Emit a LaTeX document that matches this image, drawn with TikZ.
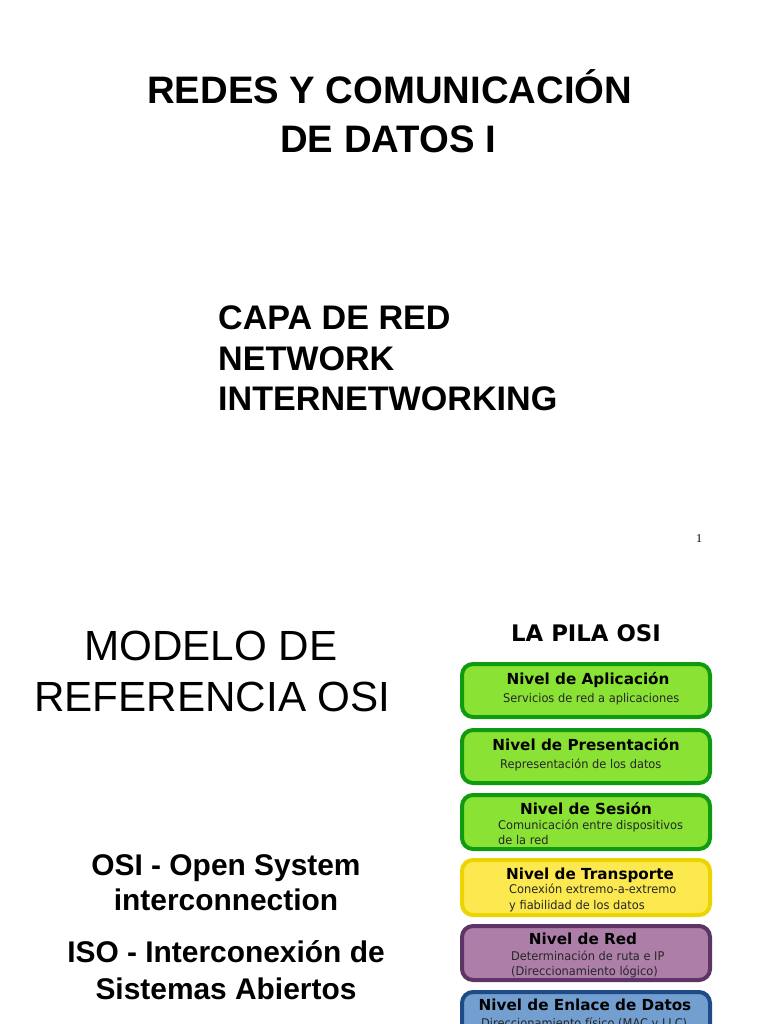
\documentclass[tikz,border=0pt]{standalone}
\usepackage{fontspec}
\setmainfont{Liberation Sans}
\newfontfamily\headf{DejaVu Sans}
\newfontfamily\subf[FakeStretch=0.95]{DejaVu Sans}
\newcommand{\fsz}[1]{\fontsize{#1}{#1}\selectfont}
\definecolor{gfill}{HTML}{8AE234}
\definecolor{gline}{HTML}{0F9A0F}
\definecolor{yfill}{HTML}{FCE94F}
\definecolor{yline}{HTML}{EDD400}
\definecolor{pfill}{HTML}{AD7FA8}
\definecolor{pline}{HTML}{5C3566}
\definecolor{bfill}{HTML}{729FCF}
\definecolor{bline}{HTML}{204A87}
\tikzset{
 x=1pt,y=-1pt,
 txt/.style={inner sep=0pt,anchor=base west,align=left},
 ttl/.style={txt,font=\fsz{38.3}\bfseries},
 captext/.style={txt,font=\fsz{34.1}\bfseries},
 big/.style={txt,font=\fsz{42.2}},
 mid/.style={inner sep=0pt,anchor=base,font=\fsz{29.9}\bfseries},
 layer/.style={rounded corners=11pt,line width=4pt},
 head/.style={inner sep=0pt,anchor=base,font=\headf\fsz{15.2}\bfseries},
 sub/.style={txt,font=\subf\fsz{12},text=black!85},
}
\begin{document}
\begin{tikzpicture}
\useasboundingbox (0,0) rectangle (768,1024);
\clip (0,0) rectangle (768,1024);
\fill[white] (0,0) rectangle (768,1024);
\node[ttl] (t1) at (147,104) {REDES Y COMUNICACIÓN};
\node[ttl] (t2) at (280,153) {DE DATOS I};
\node[captext] (c1) at (218,329) {CAPA DE RED};
\node[captext] (c2) at (218,370) {NETWORK};
\node[captext] (c3) at (218,410) {INTERNETWORKING};
\node[txt,font=\fontspec{Liberation Serif}\fsz{12}] (pg) at (696,542) {1};
\node[big] (m1) at (84,660) {MODELO DE};
\node[big] (m2) at (34,711) {REFERENCIA OSI};
\node[mid] (o1) at (226,875) {OSI - Open System};
\node[mid] (o2) at (226,910) {interconnection};
\node[mid] (i1) at (226,962) {ISO - Interconexión de};
\node[mid] (i2) at (226,999) {Sistemas Abiertos};
\node[inner sep=0pt,anchor=base,font=\headf\fsz{22.8}\bfseries] (pila) at (586,641) {LA PILA OSI};
\draw[layer,fill=gfill,draw=gline] (462,664) rectangle (710,717);
\draw[layer,fill=gfill,draw=gline] (462,730) rectangle (710,783);
\draw[layer,fill=gfill,draw=gline] (462,795) rectangle (710,849);
\draw[layer,fill=yfill,draw=yline] (462,860) rectangle (710,915);
\draw[layer,fill=pfill,draw=pline] (462,926) rectangle (710,980);
\draw[layer,fill=bfill,draw=bline] (462,992) rectangle (710,1050);
\node[head] (h1) at (588,684) {Nivel de Aplicación};
\node[sub] (s1) at (503,702) {Servicios de red a aplicaciones};
\node[head] (h2) at (586,750) {Nivel de Presentación};
\node[sub] (s2) at (500,768) {Representación de los datos};
\node[head] (h3) at (586,814) {Nivel de Sesión};
\node[sub] (s3a) at (498,829) {Comunicación entre dispositivos};
\node[sub] (s3b) at (498,844) {de la red};
\node[head] (h4) at (590,879) {Nivel de Transporte};
\node[sub] (s4a) at (509,893) {Conexión extremo-a-extremo};
\node[sub] (s4b) at (509,909) {y fiabilidad de los datos};
\node[head] (h5) at (583,944) {Nivel de Red};
\node[sub] (s5a) at (511,960) {Determinación de ruta e IP};
\node[sub] (s5b) at (511,975) {(Direccionamiento lógico)};
\node[head] (h6) at (585,1010) {Nivel de Enlace de Datos};
\node[sub] (s6) at (481,1027) {Direccionamiento físico (MAC y LLC)};
\end{tikzpicture}
\end{document}
